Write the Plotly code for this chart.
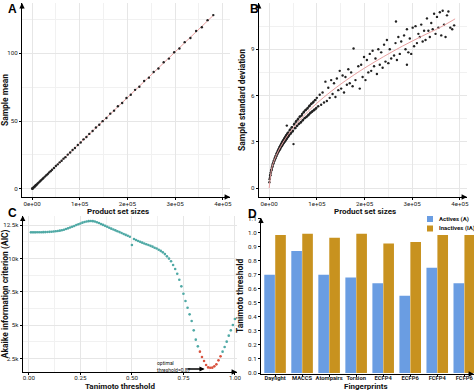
import plotly.graph_objects as go

# ---------------- Panel A data: sample mean vs product set size ----------------
a_size_k = [0.5, 1, 1.5, 2, 3, 4, 5, 6, 7, 8, 9, 10, 12, 14, 16, 18, 20, 22, 24, 27, 30, 33, 36, 39,
            42, 46, 50, 54, 58, 62, 66, 70, 75, 80, 85, 90, 96, 102, 108, 114, 120, 127, 134, 141,
            148, 156, 164, 172, 180, 189, 198, 207, 216, 225, 235, 245, 255, 265, 276, 287, 298,
            309, 320, 332, 344, 356, 368, 380]
a_mean = [0.17, 0.34, 0.50, 0.67, 1.0, 1.35, 1.68, 2.0, 2.36, 2.69, 3.02, 3.37, 4.03, 4.7, 5.38, 6.05,
          6.72, 7.4, 8.06, 9.1, 10.1, 11.0, 12.2, 13.1, 14.1, 15.4, 16.9, 18.1, 19.6, 20.8, 22.3,
          23.4, 25.3, 26.8, 28.7, 30.1, 32.4, 34.2, 36.5, 38.2, 40.5, 42.6, 45.2, 47.2, 49.9, 52.2,
          55.4, 57.6, 60.8, 63.2, 66.9, 69.3, 72.9, 75.2, 79.4, 81.9, 86.1, 88.6, 93.2, 95.9, 100.6,
          103.3, 108.0, 111.1, 116.2, 119.0, 124.2, 127.9]
a_fit_k = [0, 380]
a_fit = [0.0, 127.7]

# ---------------- Panel B data: sample standard deviation ----------------
b_size_k = [0.5, 1, 1.5, 2, 2.5, 3, 3.5, 4, 5, 6, 7, 8, 9, 10, 11, 12, 13, 14, 15, 16, 17, 18, 19, 20,
            21, 22, 23, 24, 25, 26, 27, 28, 29, 30, 31, 32, 33, 34, 35, 36, 37, 38, 39, 40, 42, 44,
            46, 48, 50, 51, 52, 54, 56, 58, 60, 62, 64, 66, 68, 70, 72, 74, 76, 78, 80, 82, 84, 86,
            88, 90, 92, 94, 96, 98, 100, 103, 106, 109, 112, 115, 118, 121, 124, 127, 130, 133, 136,
            139, 142, 145, 148, 151, 154, 157, 160, 163, 166, 169, 172, 175, 177, 181, 187, 190, 193,
            196, 199, 202, 205, 208, 211, 214, 217, 220, 223, 226, 229, 232, 235, 238, 241, 244, 247,
            250, 253, 256, 262, 265, 266, 268, 271, 274, 277, 283, 286, 289, 289, 292, 295, 298, 301,
            304, 307, 310, 313, 316, 319, 322, 325, 328, 331, 334, 337, 340, 343, 346, 349, 352, 355,
            358, 361, 364, 367, 370, 373, 376, 380, 384, 388, 37]
b_sd = [0.38, 0.57, 0.66, 0.80, 0.85, 0.97, 1.01, 1.12, 1.20, 1.38, 1.43, 1.60, 1.62, 1.78, 1.79, 1.95,
        1.93, 2.10, 2.08, 2.26, 2.22, 2.40, 2.33, 2.52, 2.45, 2.66, 2.56, 2.78, 2.68, 2.90, 2.75, 3.02,
        2.85, 3.10, 2.96, 3.20, 3.05, 3.33, 3.15, 3.42, 3.22, 3.50, 3.30, 3.60, 3.44, 3.80, 3.58, 3.95,
        3.72, 2.85, 4.12, 3.88, 4.30, 4.02, 4.45, 4.15, 4.62, 4.25, 4.70, 4.38, 4.90, 4.52, 5.05, 4.60,
        5.15, 4.72, 5.30, 4.85, 5.45, 4.95, 5.55, 5.05, 5.70, 5.15, 5.85, 5.30, 6.05, 5.40, 6.20, 5.55,
        6.90, 5.65, 6.50, 5.85, 7.00, 6.10, 6.80, 5.90, 7.10, 6.35, 7.60, 6.45, 7.30, 6.20, 7.20, 6.70,
        7.70, 6.80, 7.50, 6.60, 9.05, 7.00, 7.90, 6.45, 8.00, 7.20, 8.50, 7.00, 8.30, 7.50, 8.70, 7.60,
        8.90, 7.90, 8.40, 7.40, 9.00, 8.00, 8.80, 7.80, 9.30, 8.20, 9.60, 8.10, 9.00, 8.40, 8.60, 9.40,
        10.80, 8.30, 9.80, 8.70, 9.50, 9.90, 9.00, 10.30, 8.00, 8.80, 9.70, 8.70, 10.40, 9.20, 10.50,
        9.40, 10.00, 9.80, 10.60, 9.50, 10.20, 9.60, 11.00, 10.20, 9.80, 10.70, 10.30, 11.30, 10.00,
        11.10, 10.40, 11.40, 9.90, 11.50, 10.60, 9.80, 11.20, 11.45, 10.40, 10.30, 10.55, 4.05]
# extra samples in the dense low-size band
b_size_k_low = [2.2, 4.5, 5.5, 6.5, 7.5, 8.5, 9.5, 10.5, 11.5, 12.5, 13.5, 14.5, 15.5, 16.5, 17.5, 18.5,
                19.5, 20.5, 21.5, 22.5, 23.5, 24.5, 25.5, 26.5, 27.5, 28.5, 29.5, 30.5, 31.5, 32.5,
                33.5, 34.5, 35.5, 36.5, 38.5, 41, 43, 45, 47, 49, 53, 55, 57, 59, 61, 63, 65, 67, 69,
                71, 73, 75, 77, 79, 81, 83, 85, 87, 89, 91, 93, 95, 97, 99]
b_sd_low = [0.83, 1.15, 1.31, 1.37, 1.54, 1.57, 1.73, 1.75, 1.90, 1.90, 2.07, 2.04, 2.22, 2.18, 2.36,
            2.30, 2.50, 2.42, 2.63, 2.52, 2.75, 2.63, 2.88, 2.72, 2.99, 2.82, 3.10, 2.92, 3.21, 3.00,
            3.30, 3.08, 3.41, 3.18, 3.55, 3.38, 3.75, 3.52, 3.93, 3.66, 4.18, 3.90, 4.35, 4.05, 4.50,
            4.18, 4.65, 4.28, 4.80, 4.42, 4.95, 4.55, 5.08, 4.65, 5.20, 4.78, 5.35, 4.90, 5.48, 5.00,
            5.60, 5.10, 5.72, 5.20]
b_fit_k = [0, 5, 10, 20, 40, 60, 80, 100, 130, 160, 200, 240, 280, 320, 360, 390]
b_fit = [0.0, 1.23, 1.74, 2.46, 3.48, 4.26, 4.92, 5.50, 6.27, 6.96, 7.78, 8.52, 9.21, 9.84, 10.44, 10.97]
size_ticks = [0, 100000, 200000, 300000, 400000]
size_tick_text = ["0e+00", "1e+05", "2e+05", "3e+05", "4e+05"]

# ---------------- Panel C data: AIC vs Tanimoto threshold ----------------
c_threshold = [round(0.01 * i, 2) for i in range(1, 101)]
c_aic = [11950, 11950, 11950, 11955, 11960, 11960, 11965, 11970, 11980, 11990,
         12000, 12010, 12030, 12050, 12080, 12110, 12150, 12200, 12250, 12310,
         12370, 12430, 12500, 12560, 12620, 12680, 12730, 12770, 12790, 12800,
         12790, 12760, 12710, 12650, 12580, 12510, 12440, 12370, 12300, 12230,
         12160, 12100, 12030, 11970, 11900, 11830, 11760, 11700, 11620, 11000,
         11450, 11380, 11300, 11240, 11180, 11120, 11060, 11000, 10940, 10880,
         10800, 10740, 10650, 10560, 10450, 10320, 10150, 9980, 9780, 9500,
         9200, 8850, 8400, 7900, 7350, 6800, 6300, 5800, 5300, 4600,
         3900, 3400, 3000, 2600, 2300, 2000, 1820, 1790, 1800, 1900,
         2050, 2350, 2650, 3000, 3350, 3750, 4200, 4600, 5000, 5450]
c_optimal = [0.83, 0.93]
c_ticks = [2500, 5000, 7500, 10000, 12500]
c_tick_text = ["2.5k", "5k", "7.5k", "10k", "12.5k"]
c_x_ticks = [0, 0.25, 0.5, 0.75, 1.0]
c_x_tick_text = ["0.00", "0.25", "0.50", "0.75", "1.00"]

# ---------------- Panel D data: Tanimoto thresholds per fingerprint ----------------
fingerprints = ["Daylight", "MACCS", "Atompairs", "Torsion", "ECFP4", "ECFP6", "FCFP4", "FCFP6"]
actives = [0.70, 0.87, 0.70, 0.68, 0.64, 0.55, 0.75, 0.64]
inactives = [0.984, 0.993, 0.964, 0.993, 0.924, 0.934, 0.984, 0.984]

# ---------------- styling ----------------
W, H = 474, 390
FONT = "Roboto, Liberation Sans, sans-serif"
GRID = "#e6e6e6"
MINOR = "#f1f1f1"
TEAL = "#4fa9a5"
RED = "#d9533f"
BLUE = "#6a9de2"
GOLD = "#c8921f"


def dom_x(l, r):
    return [l / W, r / W]


def dom_y(top, bottom):
    return [(H - bottom) / H, (H - top) / H]


fig = go.Figure()

fig.add_trace(go.Scatter(x=[v * 1000 for v in a_fit_k], y=a_fit, mode="lines",
                         line=dict(color="#e8a0a0", width=1), xaxis="x", yaxis="y", showlegend=False))
fig.add_trace(go.Scatter(x=[v * 1000 for v in a_size_k], y=a_mean, mode="markers",
                         marker=dict(color="#222222", size=2.4), xaxis="x", yaxis="y", showlegend=False))

fig.add_trace(go.Scatter(x=[v * 1000 for v in b_size_k + b_size_k_low], y=b_sd + b_sd_low, mode="markers",
                         marker=dict(color="#222222", size=2.4), xaxis="x2", yaxis="y2", showlegend=False))
fig.add_trace(go.Scatter(x=[v * 1000 for v in b_fit_k], y=b_fit, mode="lines", line_shape="spline",
                         line=dict(color="#e8a0a0", width=1), xaxis="x2", yaxis="y2", showlegend=False))

c_colors = [RED if c_optimal[0] <= t <= c_optimal[1] else TEAL for t in c_threshold]
fig.add_trace(go.Scatter(x=c_threshold, y=c_aic, mode="markers",
                         marker=dict(color=c_colors, size=2.6), xaxis="x3", yaxis="y3", showlegend=False))

fig.add_trace(go.Bar(x=fingerprints, y=actives, name="Actives (A)", marker=dict(color=BLUE, line_width=0),
                     xaxis="x4", yaxis="y4", showlegend=False))
fig.add_trace(go.Bar(x=fingerprints, y=inactives, name="Inactives (IA)", marker=dict(color=GOLD, line_width=0),
                     xaxis="x4", yaxis="y4", showlegend=False))

tickfont = dict(family=FONT, size=6.2, color="#222222")
titlefont = dict(family=FONT, size=8.5, color="#111111", weight=700)
xtitlefont = dict(family=FONT, size=8, color="#111111", weight=700)
common = dict(showline=True, linecolor="black", linewidth=1.2, ticks="outside", ticklen=2,
              tickcolor="black", tickwidth=1, tickfont=tickfont, zeroline=False, automargin=False)
xcommon = dict(common, ticklabelstandoff=-2)

fig.update_layout(
    width=W, height=H, margin=dict(l=0, r=0, t=0, b=0, autoexpand=False),
    paper_bgcolor="white", plot_bgcolor="white",
    barmode="group", bargap=0.19, bargroupgap=0.03,
    xaxis=dict(domain=dom_x(22, 230), anchor="y", range=[-21000, 415000], tickvals=size_ticks,
               ticktext=size_tick_text, showgrid=True, gridcolor=GRID, gridwidth=0.8,
               minor=dict(tickvals=[50000, 150000, 250000, 350000], showgrid=True, gridcolor=MINOR, ticks=""),
               **xcommon),
    yaxis=dict(domain=dom_y(3, 197), anchor="x", range=[-5.9, 136.8], tickvals=[0, 50, 100],
               showgrid=True, gridcolor=GRID, gridwidth=0.8,
               minor=dict(tickvals=[25, 75, 125], showgrid=True, gridcolor=MINOR, ticks=""),
               title=dict(text="Sample mean", font=titlefont, standoff=3), **common),
    xaxis2=dict(domain=dom_x(258.7, 467), anchor="y2", range=[-22000, 415000], tickvals=size_ticks,
                ticktext=size_tick_text, showgrid=True, gridcolor=GRID, gridwidth=0.8,
                minor=dict(tickvals=[50000, 150000, 250000, 350000], showgrid=True, gridcolor=MINOR, ticks=""),
                **xcommon),
    yaxis2=dict(domain=dom_y(3, 197), anchor="x2", range=[-0.58, 12.0], tickvals=[0, 3, 6, 9],
                showgrid=True, gridcolor=GRID, gridwidth=0.8,
                minor=dict(tickvals=[1.5, 4.5, 7.5, 10.5], showgrid=True, gridcolor=MINOR, ticks=""),
                title=dict(text="Sample standard deviation", font=titlefont, standoff=3), **common),
    xaxis3=dict(domain=dom_x(22.7, 237), anchor="y3", range=[-0.03, 1.01], tickvals=c_x_ticks,
                ticktext=c_x_tick_text, showgrid=True, gridcolor=GRID, gridwidth=0.8,
                minor=dict(tickvals=[0.125, 0.375, 0.625, 0.875], showgrid=True, gridcolor=MINOR, ticks=""),
                **dict(xcommon, ticklabelstandoff=-3)),
    yaxis3=dict(domain=dom_y(215.7, 372), anchor="x3", range=[1475, 13200], tickvals=c_ticks,
                ticktext=c_tick_text, showgrid=True, gridcolor=GRID, gridwidth=0.8,
                minor=dict(tickvals=[3750, 6250, 8750, 11250], showgrid=True, gridcolor=MINOR, ticks=""),
                title=dict(text="Akaike information criterion (AIC)", font=titlefont, standoff=3), **common),
    xaxis4=dict(domain=dom_x(261, 474), anchor="y4", range=[-0.52, 7.36], showgrid=False, tickangle=0,
                **{**xcommon, "ticklabelstandoff": -4,
                   "tickfont": dict(family=FONT, size=5.8, color="#222222", weight=700)}),
    yaxis4=dict(domain=dom_y(217.7, 374), anchor="x4", range=[-0.007, 1.107], dtick=0.1, tickformat=".1f",
                showgrid=False, title=dict(text="Tanimoto threshold", font=titlefont, standoff=3), **common),
)

ann = []
# x-axis titles
for text, px, py in [("Product set sizes", 118, 211), ("Product set sizes", 365, 211),
                     ("Tanimoto threshold", 120, 386), ("Fingerprints", 366, 386)]:
    ann.append(dict(text=text, x=px / W, y=(H - py) / H, xref="paper", yref="paper", xanchor="center",
                    yanchor="middle", showarrow=False, font=xtitlefont))
# axis arrows
for xa, ya in [("x", "y"), ("x2", "y2"), ("x3", "y3"), ("x4", "y4")]:
    ann.append(dict(x=1, y=0, xref=f"{xa} domain", yref=f"{ya} domain", ax=-7, ay=0, showarrow=True,
                    arrowhead=2, arrowsize=0.9, arrowwidth=1.2, arrowcolor="black", text=""))
    ann.append(dict(x=0, y=1, xref=f"{xa} domain", yref=f"{ya} domain", ax=0, ay=7, showarrow=True,
                    arrowhead=2, arrowsize=0.9, arrowwidth=1.2, arrowcolor="black", text=""))
# panel letters
for letter, px, py in [("A", 6, 0), ("B", 248, 0), ("C", 6, 204), ("D", 246, 205)]:
    ann.append(dict(text=letter, x=px / W, y=(H - py) / H, xref="paper", yref="paper", xanchor="left",
                    yanchor="top", showarrow=False, font=dict(family="Liberation Sans, Arial", size=12,
                                                              color="black", weight=700)))
# optimal threshold annotation
ann.append(dict(x=0.853, y=1700, ax=0.762, ay=1700, xref="x3", yref="y3", axref="x3", ayref="y3",
                showarrow=True, arrowhead=2, arrowsize=0.8, arrowwidth=1.3, arrowcolor="black", text=""))
ann.append(dict(x=0.612, y=1880, xref="x3", yref="y3", xanchor="left", yanchor="middle", align="left",
                showarrow=False, text="optimal<br>threshold=0.87",
                font=dict(family=FONT, size=5, color="#111111")))
# legend for panel D
for i, (name, col) in enumerate([("Actives (A)", BLUE), ("Inactives (IA)", GOLD)]):
    cy = 219 + i * 9.5
    fig.add_shape(type="rect", xref="paper", yref="paper", x0=427 / W, x1=433 / W,
                  y0=(H - cy - 3) / H, y1=(H - cy + 3) / H, fillcolor=col, line_width=0)
    ann.append(dict(text=name, x=437 / W, y=(H - cy) / H, xref="paper", yref="paper", xanchor="left",
                    yanchor="middle", showarrow=False,
                    font=dict(family=FONT, size=6, color="#111111", weight=700)))
fig.update_layout(annotations=ann)

fig.write_html("out.html", config={"displayModeBar": False},
               post_script="document.body.style.margin='0';")
